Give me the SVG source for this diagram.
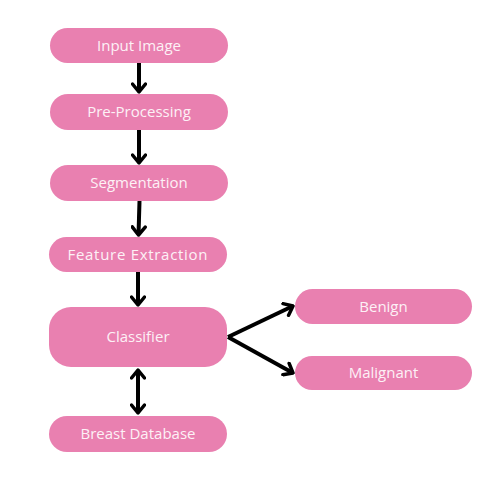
<svg xmlns="http://www.w3.org/2000/svg" width="500" height="500" viewBox="0 0 500 500">
<style>
.box{fill:#e980b0}
.lbl{font-family:"Open Sans","Noto Sans",sans-serif;font-size:15px;fill:#fdf1f6;text-anchor:middle;dominant-baseline:central}
.con{stroke:#000;stroke-width:4;fill:none}
</style>
<defs>
<marker id="ah" viewBox="0 0 12 16" refX="10" refY="8" markerWidth="12" markerHeight="16" markerUnits="userSpaceOnUse" orient="auto-start-reverse">
<path d="M2,1.5 L10,8 L2,14.5" fill="none" stroke="#000" stroke-width="3.5" stroke-linecap="round" stroke-linejoin="round"/>
</marker>
</defs>
<rect width="500" height="500" fill="#fff"/>
<g id="input"><rect class="box" x="50" y="28" width="178" height="35" rx="17.5"/><text class="lbl" x="139" y="44.5">Input Image</text></g>
<g id="preprocessing"><rect class="box" x="50" y="94" width="178" height="36" rx="18"/><text class="lbl" x="139" y="111">Pre-Processing</text></g>
<g id="segmentation"><rect class="box" x="50" y="165" width="178" height="36" rx="18"/><text class="lbl" x="139" y="182">Segmentation</text></g>
<g id="feature"><rect class="box" x="49" y="237" width="178" height="35" rx="17.5"/><text class="lbl" x="137.5" y="253.5" textLength="140" lengthAdjust="spacing">Feature Extraction</text></g>
<g id="classifier"><rect class="box" x="49" y="307" width="178" height="60" rx="22"/><text class="lbl" x="138" y="336">Classifier</text></g>
<g id="database"><rect class="box" x="49" y="416" width="178" height="36" rx="18"/><text class="lbl" x="138" y="433">Breast Database</text></g>
<g id="benign"><rect class="box" x="295" y="289" width="177" height="35" rx="17.5"/><text class="lbl" x="383.5" y="305.5">Benign</text></g>
<g id="malignant"><rect class="box" x="295" y="356" width="177" height="34" rx="17"/><text class="lbl" x="383.5" y="372">Malignant</text></g>
<g id="connectors">
<line class="con" x1="139" y1="63" x2="139" y2="92" marker-end="url(#ah)"/>
<line class="con" x1="139" y1="130" x2="139" y2="163" marker-end="url(#ah)"/>
<line class="con" x1="139.5" y1="201" x2="138.5" y2="235" marker-end="url(#ah)"/>
<line class="con" x1="138" y1="272" x2="138" y2="305" marker-end="url(#ah)"/>
<line class="con" x1="138" y1="370" x2="138" y2="413" marker-start="url(#ah)" marker-end="url(#ah)"/>
<line class="con" x1="228" y1="337" x2="293" y2="306" marker-end="url(#ah)"/>
<line class="con" x1="228" y1="337" x2="293" y2="373" marker-end="url(#ah)"/>
</g>
</svg>
